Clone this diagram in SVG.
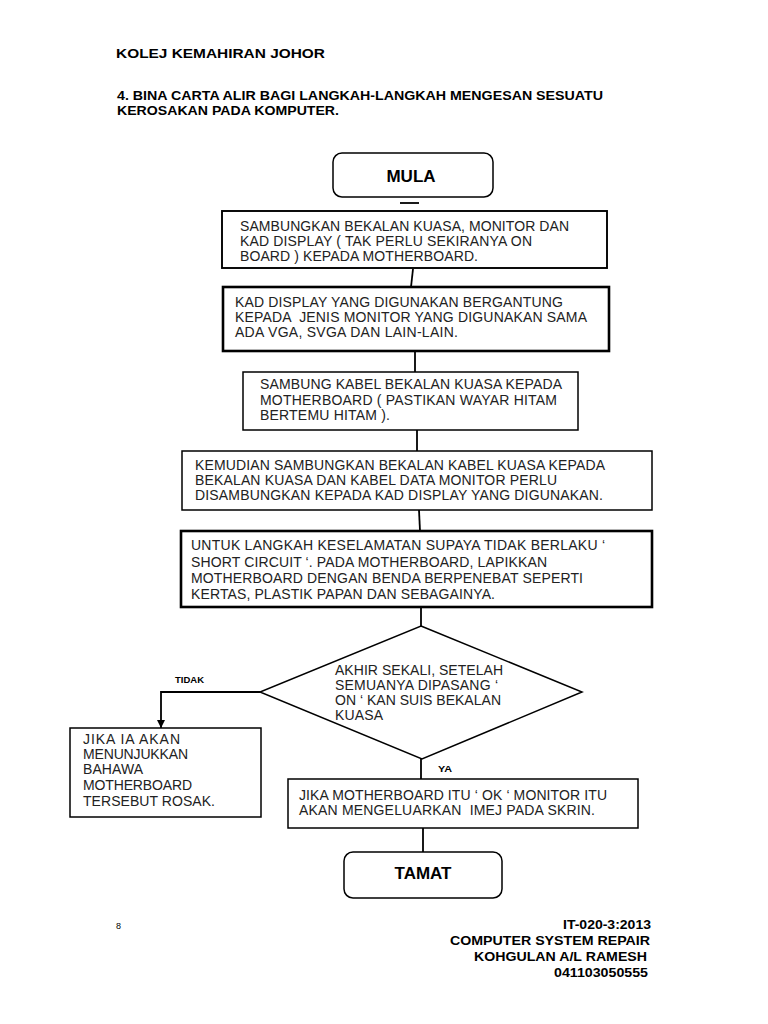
<svg xmlns="http://www.w3.org/2000/svg" width="768" height="1024" viewBox="0 0 768 1024">
<style>
.box{fill:#fff;stroke:#000;stroke-width:1.5}
.thick{stroke-width:2.6}
.t{font-family:"Liberation Sans",Arial,sans-serif;font-size:14px;fill:#222}
.h{font-family:"Liberation Sans",Arial,sans-serif;font-weight:bold;fill:#000}
.lbl{font-family:"Liberation Sans",Arial,sans-serif;font-weight:bold;font-size:8.5px;fill:#000}
.term{font-family:"Liberation Sans",Arial,sans-serif;font-weight:bold;font-size:17px;fill:#000}
.c{fill:none;stroke:#000;stroke-width:1.8}
</style>
<defs>
<marker id="arr" viewBox="0 0 10 10" refX="10" refY="5" markerWidth="8" markerHeight="8" markerUnits="userSpaceOnUse" orient="auto">
<path d="M0,0 L10,5 L0,10 z" fill="#000"/>
</marker>
</defs>
<rect width="768" height="1024" fill="#fff"/>

<g id="header">
<text class="h" x="116" y="58" font-size="13.5" textLength="209" lengthAdjust="spacingAndGlyphs">KOLEJ KEMAHIRAN JOHOR</text>
<text class="h" x="117" y="100" font-size="12.5" textLength="486" lengthAdjust="spacingAndGlyphs">4. BINA CARTA ALIR BAGI LANGKAH-LANGKAH MENGESAN SESUATU</text>
<text class="h" x="117" y="115" font-size="12.5" textLength="222" lengthAdjust="spacingAndGlyphs">KEROSAKAN PADA KOMPUTER.</text>
</g>

<g id="connectors">
<line class="c" x1="400" y1="203" x2="419" y2="203"/>
<line class="c" x1="413" y1="269" x2="411" y2="287"/>
<line class="c" x1="415" y1="351" x2="415" y2="372"/>
<line class="c" x1="417" y1="430" x2="417" y2="451"/>
<line class="c" x1="419" y1="510" x2="420" y2="531"/>
<line class="c" x1="421" y1="607" x2="421" y2="627"/>
<polyline class="c" points="260,692 161,692 161,728" marker-end="url(#arr)"/>
<line class="c" x1="421" y1="759" x2="421" y2="779"/>
<line class="c" x1="423" y1="828" x2="423" y2="852"/>
<text class="lbl" x="175" y="683" textLength="29" lengthAdjust="spacingAndGlyphs">TIDAK</text>
<text class="lbl" x="438" y="772" textLength="14" lengthAdjust="spacingAndGlyphs">YA</text>
</g>

<g id="mula">
<rect class="box" x="333" y="153" width="160" height="44" rx="9"/>
<text class="term" x="411" y="182" text-anchor="middle">MULA</text>
</g>

<g id="step1">
<rect class="box" x="222" y="211" width="385" height="57" style="stroke-width:1.9"/>
<text class="t" x="240" y="231" textLength="329" lengthAdjust="spacing">SAMBUNGKAN BEKALAN KUASA, MONITOR DAN</text>
<text class="t" x="240" y="246" textLength="292" lengthAdjust="spacing">KAD DISPLAY ( TAK PERLU SEKIRANYA ON</text>
<text class="t" x="240" y="261" textLength="238" lengthAdjust="spacing">BOARD ) KEPADA MOTHERBOARD.</text>
</g>

<g id="step2">
<rect class="box thick" x="223" y="287" width="386" height="64"/>
<text class="t" x="235" y="307" textLength="328" lengthAdjust="spacing">KAD DISPLAY YANG DIGUNAKAN BERGANTUNG</text>
<text class="t" x="235" y="322" textLength="352" lengthAdjust="spacing" xml:space="preserve">KEPADA  JENIS MONITOR YANG DIGUNAKAN SAMA</text>
<text class="t" x="235" y="337" textLength="223" lengthAdjust="spacing">ADA VGA, SVGA DAN LAIN-LAIN.</text>
</g>

<g id="step3">
<rect class="box" x="243" y="372" width="335" height="58"/>
<text class="t" x="260" y="389" textLength="302" lengthAdjust="spacing">SAMBUNG KABEL BEKALAN KUASA KEPADA</text>
<text class="t" x="260" y="405" textLength="297" lengthAdjust="spacing">MOTHERBOARD ( PASTIKAN WAYAR HITAM</text>
<text class="t" x="260" y="420" textLength="130" lengthAdjust="spacing">BERTEMU HITAM ).</text>
</g>

<g id="step4">
<rect class="box" x="182" y="451" width="470" height="59"/>
<text class="t" x="195" y="470" textLength="410" lengthAdjust="spacing">KEMUDIAN SAMBUNGKAN BEKALAN KABEL KUASA KEPADA</text>
<text class="t" x="195" y="485" textLength="362" lengthAdjust="spacing">BEKALAN KUASA DAN KABEL DATA MONITOR PERLU</text>
<text class="t" x="195" y="500" textLength="408" lengthAdjust="spacing">DISAMBUNGKAN KEPADA KAD DISPLAY YANG DIGUNAKAN.</text>
</g>

<g id="step5">
<rect class="box thick" x="181" y="531" width="471" height="76"/>
<text class="t" x="191" y="550" textLength="414" lengthAdjust="spacing">UNTUK LANGKAH KESELAMATAN SUPAYA TIDAK BERLAKU ‘</text>
<text class="t" x="191" y="567" textLength="356" lengthAdjust="spacing">SHORT CIRCUIT ‘. PADA MOTHERBOARD, LAPIKKAN</text>
<text class="t" x="191" y="583" textLength="392" lengthAdjust="spacing">MOTHERBOARD DENGAN BENDA BERPENEBAT SEPERTI</text>
<text class="t" x="191" y="599" textLength="304" lengthAdjust="spacing">KERTAS, PLASTIK PAPAN DAN SEBAGAINYA.</text>
</g>

<g id="decision">
<polygon class="box" points="421,626 582,692 422,759 260,692"/>
<text class="t" x="335" y="675" textLength="168" lengthAdjust="spacing">AKHIR SEKALI, SETELAH</text>
<text class="t" x="335" y="690" textLength="163" lengthAdjust="spacing">SEMUANYA DIPASANG ‘</text>
<text class="t" x="335" y="705" textLength="166" lengthAdjust="spacing">ON ‘ KAN SUIS BEKALAN</text>
<text class="t" x="335" y="720" textLength="48" lengthAdjust="spacing">KUASA</text>
</g>

<g id="fail">
<rect class="box" x="70" y="728" width="191" height="89"/>
<text class="t" x="83" y="744" textLength="97" lengthAdjust="spacing">JIKA IA AKAN</text>
<text class="t" x="83" y="759" textLength="105" lengthAdjust="spacing">MENUNJUKKAN</text>
<text class="t" x="83" y="774" textLength="60" lengthAdjust="spacing">BAHAWA</text>
<text class="t" x="83" y="790" textLength="109" lengthAdjust="spacing">MOTHERBOARD</text>
<text class="t" x="83" y="806" textLength="132" lengthAdjust="spacing">TERSEBUT ROSAK.</text>
</g>

<g id="ok">
<rect class="box" x="288" y="779" width="350" height="49"/>
<text class="t" x="299" y="800" textLength="308" lengthAdjust="spacing">JIKA MOTHERBOARD ITU ‘ OK ‘ MONITOR ITU</text>
<text class="t" x="299" y="815" textLength="296" lengthAdjust="spacing" xml:space="preserve">AKAN MENGELUARKAN  IMEJ PADA SKRIN.</text>
</g>

<g id="tamat">
<rect class="box" x="344" y="852" width="158" height="46" rx="9"/>
<text class="term" x="423" y="879" text-anchor="middle">TAMAT</text>
</g>

<g id="footer">
<text x="116" y="929" font-family="Liberation Sans, Arial, sans-serif" font-size="9" fill="#000">8</text>
<text class="h" x="563" y="929" font-size="13" textLength="88" lengthAdjust="spacingAndGlyphs">IT-020-3:2013</text>
<text class="h" x="450" y="945" font-size="13" textLength="200" lengthAdjust="spacingAndGlyphs">COMPUTER SYSTEM REPAIR</text>
<text class="h" x="474" y="961" font-size="13" textLength="173" lengthAdjust="spacingAndGlyphs">KOHGULAN A/L RAMESH</text>
<text class="h" x="554" y="977" font-size="13" textLength="94" lengthAdjust="spacingAndGlyphs">041103050555</text>
</g>
</svg>
